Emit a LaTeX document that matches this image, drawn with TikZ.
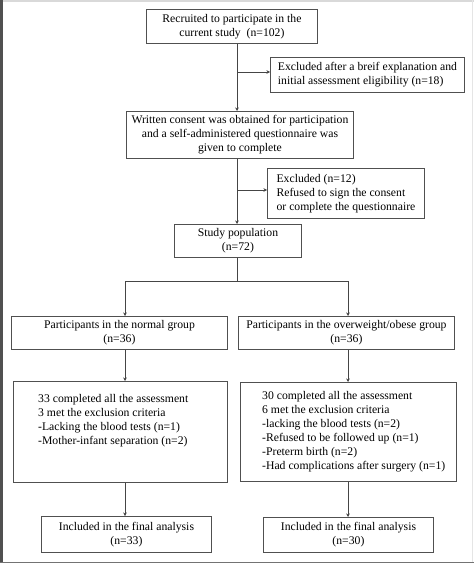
\documentclass[tikz,border=0pt]{standalone}
\usepackage{fontspec}
\setmainfont{Liberation Serif}
\usetikzlibrary{arrows.meta}
\definecolor{boxgray}{HTML}{505050}
\definecolor{linegray}{HTML}{454545}
\begin{document}
\begin{tikzpicture}[x=1pt,y=-1pt,
  box/.style={draw=boxgray,line width=0.9pt,inner sep=2pt,anchor=north west,
    font=\fontsize{11.7}{13.9}\selectfont},
  txt/.style={inner sep=0pt,anchor=north west,align=left,
    font=\fontsize{11.7}{13.9}\selectfont},
  arr/.style={draw=linegray,line width=0.8pt,-{Stealth[length=3.5pt,width=3.5pt]}},
  ln/.style={draw=linegray,line width=0.8pt}]
\useasboundingbox (0,0) rectangle (474,577);
% frame
\fill[gray!30] (0,0) rectangle (474,2.5);
\fill[boxgray] (0,0) rectangle (2.5,562);
\draw[gray!90!black,line width=1pt] (0,562) -- (474,562);
\draw[gray!20,line width=0.6pt] (472.5,0) -- (472.5,562);
% boxes
\node[box,minimum width=171,minimum height=34,align=center] (b1) at (146,9)
  {Recruited to participate in the\\current study\ \ (n=102)};
\node[box,minimum width=194,minimum height=35,align=left] (b2) at (270,57)
  {Excluded after a breif explanation and\\initial assessment eligibility (n=18)};
\node[box,minimum width=227,minimum height=47,align=center] (b3) at (126,111)
  {Written consent was obtained for participation\\and a self-administered questionnaire was\\given to complete};
\node[box,minimum width=157,minimum height=50,align=left] (b4) at (267,168)
  {Excluded (n=12)\\Refused to sign the consent\\or complete the questionnaire};
\node[box,minimum width=127,minimum height=33,align=center] (b5) at (174,224)
  {Study population\\(n=72)};
\node[box,minimum width=216,minimum height=33,align=center] (b6) at (11,316)
  {Participants in the normal group\\(n=36)};
\node[box,minimum width=216,minimum height=33,align=center] (b7) at (238,316)
  {Participants in the overweight/obese group\\(n=36)};
\node[box,minimum width=214,minimum height=101] (b8) at (13,381) {};
\node[txt] (t8) at (38,394)
  {33 completed all the assessment\\3 met the exclusion criteria\\-Lacking the blood tests (n=1)\\-Mother-infant separation (n=2)};
\node[box,minimum width=216,minimum height=99] (b9) at (240,382) {};
\node[txt] (t9) at (262,391.5)
  {30 completed all the assessment\\6 met the exclusion criteria\\-lacking the blood tests (n=2)\\-Refused to be followed up (n=1)\\-Preterm birth (n=2)\\-Had complications after surgery (n=1)};
\node[box,minimum width=170,minimum height=36,align=center] (b10) at (41,516)
  {Included in the final analysis\\(n=33)};
\node[box,minimum width=170,minimum height=35,align=center] (b11) at (263,517)
  {Included in the final analysis\\(n=30)};
% connector helpers
\coordinate (mx) at (237,0);
\coordinate (lx) at (125,0);
\coordinate (rx) at (348,0);
\coordinate (j) at (237,281);
\coordinate (jl) at (125,281);
\coordinate (jr) at (348,281);
% connectors
\draw[arr] (b1.south -| mx) -- (b3.north -| mx);
\draw[arr] (mx |- 0,72) -- (b2.west |- 0,72);
\draw[arr] (b3.south -| mx) -- (b5.north -| mx);
\draw[arr] (mx |- 0,190) -- (b4.west |- 0,190);
\draw[ln] (b5.south -| mx) -- (j);
\draw[ln] (jl) -- (jr);
\draw[arr] (jl) -- (b6.north -| lx);
\draw[arr] (jr) -- (b7.north -| rx);
\draw[arr] (b6.south -| lx) -- (b8.north -| lx);
\draw[arr] (b7.south -| rx) -- (b9.north -| rx);
\draw[arr] (b8.south -| lx) -- (b10.north -| lx);
\draw[arr] (b9.south -| rx) -- (b11.north -| rx);
\end{tikzpicture}
\end{document}
